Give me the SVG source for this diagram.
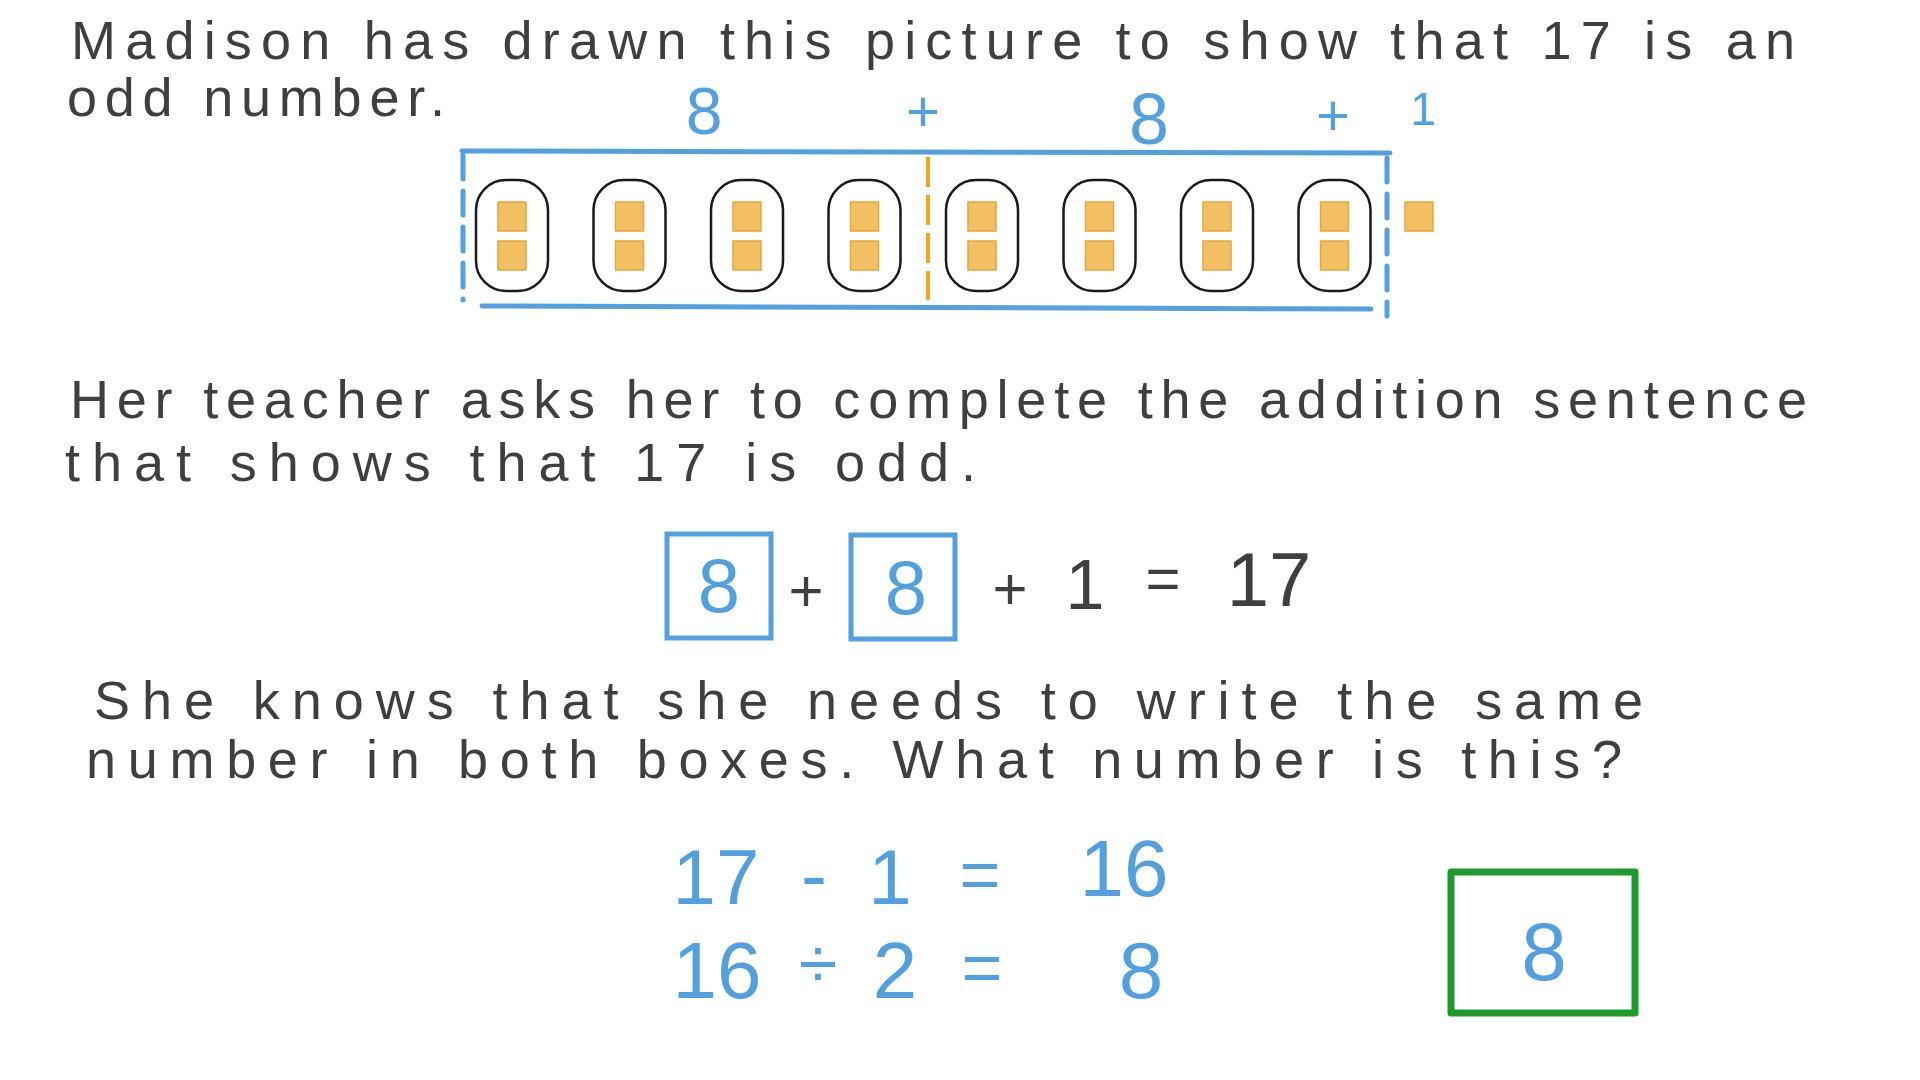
<svg xmlns="http://www.w3.org/2000/svg" width="1920" height="1080" viewBox="0 0 1920 1080">
<style>
.t{font-family:"Liberation Sans",Arial,sans-serif;fill:#3f3f3f;font-size:54px}
.b{font-family:"Liberation Sans",Arial,sans-serif;fill:#52a0e0;text-anchor:middle}
.k{font-family:"Liberation Sans",Arial,sans-serif;fill:#3f3f3f;text-anchor:middle}
.pod{fill:#fff;stroke:#1a1a1a;stroke-width:2.5}
.sq{fill:#f2c062;stroke:#e6a63a;stroke-width:1.5}
.bl{fill:none;stroke:#52a0e0;stroke-width:5;stroke-linecap:round}
</style>
<rect width="1920" height="1080" fill="#fff"/>
<g id="question">
<text class="t"><tspan x="71" y="59" textLength="1724" lengthAdjust="spacing">Madison has drawn this picture to show that 17 is an</tspan><tspan x="67" y="116" textLength="378" lengthAdjust="spacing">odd number.</tspan></text>
</g>
<g id="labels">
<text class="b" x="704" y="134" font-size="66">8</text>
<text class="b" x="923" y="131" font-size="58">+</text>
<text class="b" x="1149" y="144" font-size="72">8</text>
<text class="b" x="1333" y="135" font-size="58">+</text>
<text class="b" x="1423" y="125" font-size="46">1</text>
</g>
<g id="frame">
<path class="bl" d="M462 151 L1390 153"/>
<path class="bl" d="M482 306 L1371 309"/>
<path class="bl" d="M463 155 L463 300" stroke-dasharray="24 12"/>
<path class="bl" d="M1387 158 L1387 316" stroke-dasharray="24 12"/>
<path d="M928 157 L928 300" fill="none" stroke="#f0a818" stroke-width="4" stroke-dasharray="30 8"/>
</g>
<defs>
<g id="p">
<rect class="pod" x="-36" y="180" width="72" height="111" rx="30"/>
<rect class="sq" x="-14" y="202" width="28" height="29"/>
<rect class="sq" x="-14" y="241" width="28" height="29"/>
</g>
</defs>
<g id="pods">
<use href="#p" x="512"/>
<use href="#p" x="629.5"/>
<use href="#p" x="747"/>
<use href="#p" x="864.5"/>
<use href="#p" x="982"/>
<use href="#p" x="1099.5"/>
<use href="#p" x="1217"/>
<use href="#p" x="1334.5"/>
<rect class="sq" x="1405" y="202" width="28" height="29"/>
</g>
<g id="question2">
<text class="t"><tspan x="70" y="418" textLength="1737" lengthAdjust="spacing">Her teacher asks her to complete the addition sentence</tspan><tspan x="65" y="481" textLength="911" lengthAdjust="spacing">that shows that 17 is odd.</tspan></text>
</g>
<g id="equation">
<rect x="667" y="534" width="104" height="104" fill="none" stroke="#52a0e0" stroke-width="5"/>
<text class="b" x="719" y="612" font-size="76">8</text>
<text class="k" x="806" y="611" font-size="60">+</text>
<rect x="851" y="535" width="104" height="104" fill="none" stroke="#52a0e0" stroke-width="5"/>
<text class="b" x="906" y="614" font-size="76">8</text>
<text class="k" x="1010" y="609" font-size="60">+</text>
<text class="k" x="1085" y="609" font-size="70">1</text>
<text class="k" x="1163" y="599" font-size="60">=</text>
<text class="k" x="1269" y="606" font-size="76">17</text>
</g>
<g id="question3">
<text class="t"><tspan x="94" y="719" textLength="1549" lengthAdjust="spacing">She knows that she needs to write the same</tspan><tspan x="86" y="778" textLength="1536" lengthAdjust="spacing">number in both boxes. What number is this?</tspan></text>
</g>
<g id="working">
<text class="b" x="716" y="904" font-size="78">17</text>
<text class="b" x="814" y="902" font-size="78">-</text>
<text class="b" x="890" y="904" font-size="78">1</text>
<text class="b" x="980" y="899" font-size="70">=</text>
<text class="b" x="1124" y="896" font-size="80">16</text>
<text class="b" x="717" y="998" font-size="80">16</text>
<text class="b" x="818" y="988" font-size="70">÷</text>
<text class="b" x="895" y="998" font-size="80">2</text>
<text class="b" x="982" y="992" font-size="70">=</text>
<text class="b" x="1141" y="998" font-size="80">8</text>
</g>
<g id="answer">
<rect x="1451" y="872" width="184" height="141" fill="none" stroke="#1c9a2c" stroke-width="7" stroke-linejoin="round"/>
<text class="b" x="1544" y="980" font-size="82">8</text>
</g>
</svg>
